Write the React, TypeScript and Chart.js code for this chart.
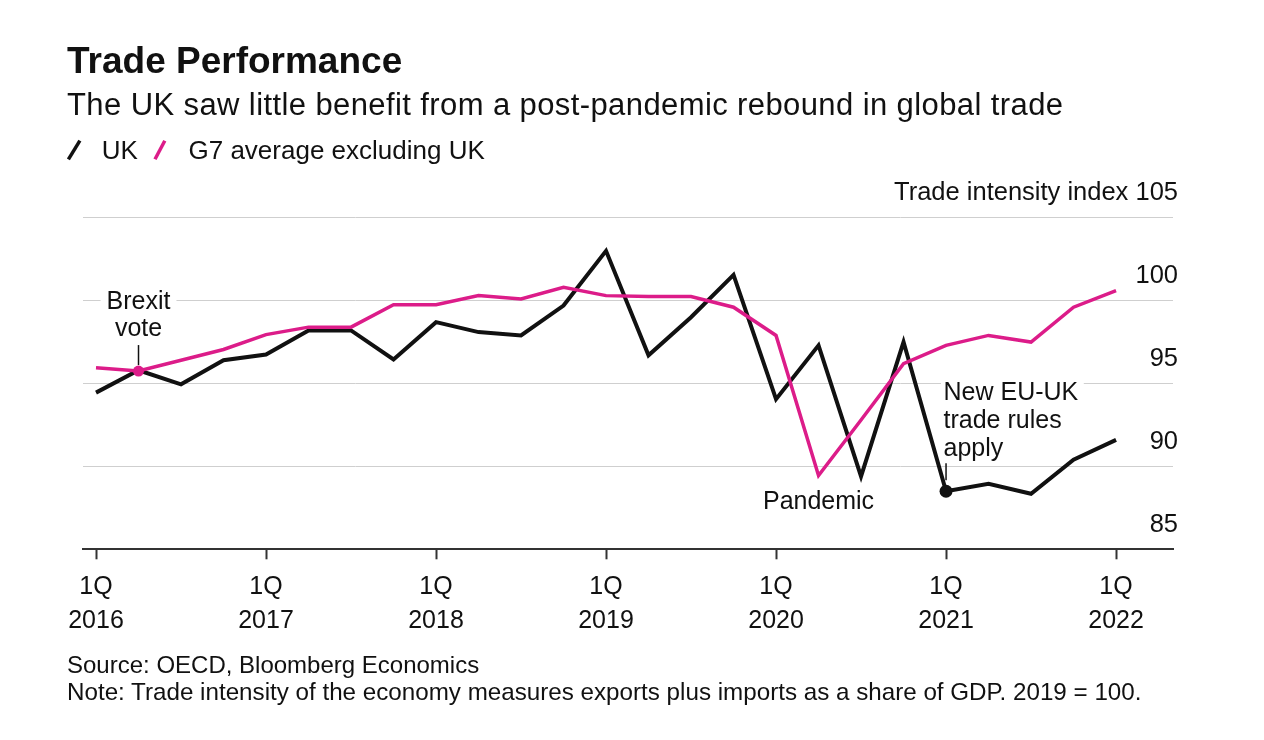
import React, { useEffect, useRef } from 'react';
import { Chart, registerables } from 'chart.js';

Chart.register(...registerables);

const FONT = '"Liberation Sans", Arial, Helvetica, sans-serif';
const BLACK = '#111111';
const PINK = '#dc1c89';

// Quarterly series, 1Q 2016 .. 1Q 2022 (index 0 = 1Q 2016)
const years = ['2016', '2017', '2018', '2019', '2020', '2021', '2022'];
const yearTickQuarters = [0, 4, 8, 12, 16, 20, 24];
const indexTicks = [85, 90, 95, 100, 105];

const ukIndex = [
  94.45, 95.8, 94.95, 96.4, 96.75, 98.2, 98.2, 96.45, 98.7, 98.1, 97.9, 99.7, 103.0,
  96.7, 99.0, 101.55, 94.05, 97.3, 89.4, 97.5, 88.5, 88.95, 88.35, 90.4, 91.6,
];
const g7Index = [
  95.95, 95.75, 96.4, 97.05, 97.95, 98.4, 98.4, 99.75, 99.75, 100.3, 100.1, 100.8, 100.3,
  100.25, 100.25, 99.6, 97.9, 89.45, 92.8, 96.2, 97.3, 97.9, 97.5, 99.6, 100.6,
];

// Event notes
const BREXIT_Q = 1;
const PANDEMIC_Q = 17;
const RULES_Q = 20;
const BREXIT_NOTE = ['Brexit', 'vote'];
const PANDEMIC_NOTE = 'Pandemic';
const RULES_NOTE = ['New EU-UK', 'trade rules', 'apply'];

const X_AXIS_HEIGHT = 110;

const notesPlugin = {
  id: 'eventNotes',
  beforeDatasetsDraw(chart: any) {
    const { ctx } = chart;
    const x = chart.scales.x;
    const y = chart.scales.y;
    ctx.save();
    ctx.font = `25px ${FONT}`;
    ctx.fillStyle = '#ffffff';
    // clear the gridline behind the first line of each note
    let px = x.getPixelForValue(BREXIT_Q);
    let py = y.getPixelForValue(g7Index[BREXIT_Q]);
    let w = ctx.measureText(BREXIT_NOTE[0]).width;
    ctx.fillRect(px - w / 2 - 6, py - 62 - 21, w + 12, 26);
    px = x.getPixelForValue(RULES_Q);
    py = y.getPixelForValue(ukIndex[RULES_Q]);
    w = ctx.measureText(RULES_NOTE[0]).width;
    ctx.fillRect(px - 5, py - 91 - 21, w + 8, 26);
    ctx.restore();
  },
  afterDatasetsDraw(chart: any) {
    const { ctx } = chart;
    const x = chart.scales.x;
    const y = chart.scales.y;
    ctx.save();
    ctx.font = `25px ${FONT}`;
    ctx.fillStyle = BLACK;
    ctx.strokeStyle = BLACK;
    ctx.lineWidth = 1.5;
    ctx.textBaseline = 'alphabetic';

    let px = x.getPixelForValue(BREXIT_Q);
    let py = y.getPixelForValue(g7Index[BREXIT_Q]);
    ctx.textAlign = 'center';
    BREXIT_NOTE.forEach((t, i) => ctx.fillText(t, px, py - 62 + i * 27.4));
    ctx.beginPath();
    ctx.moveTo(px, py - 26);
    ctx.lineTo(px, py - 6);
    ctx.stroke();

    px = x.getPixelForValue(PANDEMIC_Q);
    py = y.getPixelForValue(g7Index[PANDEMIC_Q]);
    ctx.fillText(PANDEMIC_NOTE, px, py + 33.5);

    px = x.getPixelForValue(RULES_Q);
    py = y.getPixelForValue(ukIndex[RULES_Q]);
    ctx.textAlign = 'left';
    RULES_NOTE.forEach((t, i) => ctx.fillText(t, px - 2.5, py - 91 + i * 27.8));
    ctx.beginPath();
    ctx.moveTo(px, py - 28);
    ctx.lineTo(px, py - 11);
    ctx.stroke();
    ctx.restore();
  },
};

function TradeChart() {
  const canvasRef = useRef<HTMLCanvasElement | null>(null);

  useEffect(() => {
    const canvas = canvasRef.current;
    if (!canvas) return;
    const chart = new Chart(canvas, {
      type: 'line',
      data: {
        datasets: [
          {
            label: 'G7 average excluding UK',
            data: g7Index.map((v, i) => ({ x: i, y: v })),
            borderColor: PINK,
            backgroundColor: PINK,
            borderWidth: 3.5,
            borderJoinStyle: 'miter',
            borderCapStyle: 'butt',
            tension: 0,
            pointRadius: g7Index.map((_, i) => (i === BREXIT_Q ? 5.5 : 0)),
            pointBackgroundColor: PINK,
            pointBorderWidth: 0,
            pointHoverRadius: 0,
            order: 0,
          },
          {
            label: 'UK',
            data: ukIndex.map((v, i) => ({ x: i, y: v })),
            borderColor: BLACK,
            backgroundColor: BLACK,
            borderWidth: 4,
            borderJoinStyle: 'miter',
            borderCapStyle: 'butt',
            tension: 0,
            pointRadius: ukIndex.map((_, i) => (i === RULES_Q ? 6.5 : 0)),
            pointBackgroundColor: BLACK,
            pointBorderWidth: 0,
            pointHoverRadius: 0,
            order: 1,
          },
        ],
      },
      options: {
        animation: false,
        responsive: false,
        devicePixelRatio: 1,
        events: [],
        layout: { padding: { left: 83, right: 91, top: 217.7, bottom: 740 - 549.3 - X_AXIS_HEIGHT } },
        plugins: {
          legend: { display: false },
          tooltip: { enabled: false },
          title: { display: false },
        },
        scales: {
          x: {
            type: 'linear',
            min: -0.306,
            max: 25.34,
            afterFit: (s: any) => {
              s.height = X_AXIS_HEIGHT;
            },
            afterBuildTicks: (s: any) => {
              s.ticks = yearTickQuarters.map((v) => ({ value: v }));
            },
            grid: {
              drawOnChartArea: false,
              drawTicks: true,
              tickLength: 10,
              tickColor: '#333333',
              tickWidth: 2,
            },
            border: { display: true, color: '#333333', width: 2 },
            ticks: {
              autoSkip: false,
              maxRotation: 0,
              padding: 11,
              color: BLACK,
              font: { family: FONT, size: 25, lineHeight: 1.36 },
              callback: (v: any) => ['1Q', years[yearTickQuarters.indexOf(Number(v))]],
            },
          },
          y: {
            type: 'linear',
            position: 'right',
            min: 85,
            max: 105,
            afterFit: (s: any) => {
              s.width = 0;
            },
            afterBuildTicks: (s: any) => {
              s.ticks = indexTicks.map((v) => ({ value: v }));
            },
            grid: {
              drawTicks: false,
              lineWidth: 1,
              color: (c: any) => (c.tick && c.tick.value === 85 ? 'rgba(0,0,0,0)' : '#cfcfcf'),
            },
            border: { display: false },
            ticks: {
              autoSkip: false,
              mirror: true,
              padding: 5,
              labelOffset: -24.5,
              color: BLACK,
              font: { family: FONT, size: 25.5 },
              callback: (v: any) => (Number(v) === 105 ? 'Trade intensity index 105' : String(v)),
            },
          },
        },
      } as any,
      plugins: [notesPlugin],
    });
    return () => chart.destroy();
  }, []);

  return (
    <canvas
      ref={canvasRef}
      width={1264}
      height={740}
      style={{ position: 'absolute', left: 0, top: 0, width: 1264, height: 740, display: 'block' }}
    />
  );
}

export default function App() {
  const abs: React.CSSProperties = { position: 'absolute', whiteSpace: 'nowrap' };
  return (
    <div
      style={{
        position: 'absolute',
        left: 0,
        top: 0,
        width: 1264,
        height: 740,
        background: '#ffffff',
        fontFamily: FONT,
        color: BLACK,
        overflow: 'hidden',
      }}
    >
      <TradeChart />
      <div style={{ ...abs, left: 67, top: 42, fontSize: 37, lineHeight: '37px', fontWeight: 700 }}>
        Trade Performance
      </div>
      <div style={{ ...abs, left: 67, top: 89, fontSize: 31, lineHeight: '31px', letterSpacing: '0.4px' }}>
        The UK saw little benefit from a post-pandemic rebound in global trade
      </div>
      <svg style={{ position: 'absolute', left: 0, top: 0 }} width={200} height={170}>
        <line x1={68.4} y1={159.3} x2={79.9} y2={140.7} stroke={BLACK} strokeWidth={3.5} />
        <line x1={155} y1={159.3} x2={164.8} y2={140.7} stroke={PINK} strokeWidth={3.5} />
      </svg>
      <div style={{ ...abs, left: 101.7, top: 137.3, fontSize: 26, lineHeight: '26px' }}>UK</div>
      <div style={{ ...abs, left: 188.5, top: 137.3, fontSize: 26, lineHeight: '26px' }}>
        G7 average excluding UK
      </div>
      <div style={{ ...abs, left: 67, top: 653, fontSize: 24, lineHeight: '24px' }}>
        Source: OECD, Bloomberg Economics
      </div>
      <div style={{ ...abs, left: 67, top: 680, fontSize: 24.2, lineHeight: '24px' }}>
        Note: Trade intensity of the economy measures exports plus imports as a share of GDP. 2019 = 100.
      </div>
    </div>
  );
}
